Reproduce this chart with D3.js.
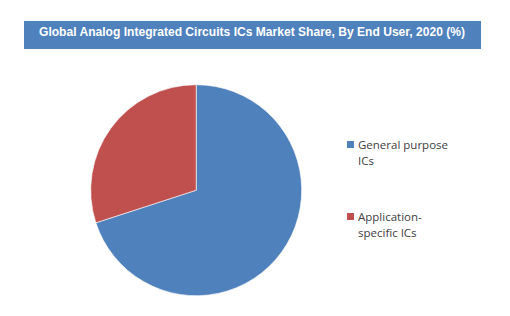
<!DOCTYPE html>
<html>
<head>
<meta charset="utf-8">
<script src="https://cdn.jsdelivr.net/npm/d3@7"></script>
<style>
  body { margin: 0; background: #fff; }
  text { font-family: "Open Sans", "Liberation Sans", sans-serif; }
</style>
</head>
<body>
<div id="chart"></div>
<script>
// data
var categories = ["General purpose ICs", "Application-specific ICs"];
var legendLines = [["General purpose", "ICs"], ["Application-", "specific ICs"]];
var shares = [70, 30];
var colors = ["#4F81BD", "#C0504D"];
var title = "Global Analog Integrated Circuits ICs Market Share, By End User, 2020 (%)";

var width = 510, height = 316;

var svg = d3.select("#chart").append("svg")
    .attr("width", width)
    .attr("height", height);

// title banner
svg.append("rect")
    .attr("x", 24).attr("y", 21)
    .attr("width", 457).attr("height", 28)
    .attr("fill", "#4F81BD");

svg.append("text")
    .attr("x", 252).attr("y", 35.5)
    .attr("text-anchor", "middle")
    .attr("fill", "#fff")
    .attr("font-size", 12.5)
    .attr("font-weight", "bold")
    .style("font-family", "'Liberation Sans Narrow', 'Liberation Sans', sans-serif")
    .attr("textLength", 426)
    .attr("lengthAdjust", "spacingAndGlyphs")
    .text(title);

// pie
var radius = 105.5;
var pie = d3.pie().sort(null).value(function (d) { return d; });
var arc = d3.arc().innerRadius(0).outerRadius(radius);

var g = svg.append("g")
    .attr("transform", "translate(196.2,190.2)");

g.selectAll("path")
    .data(pie(shares))
    .enter()
    .append("path")
    .attr("d", arc)
    .attr("fill", function (d, i) { return colors[i]; })
    .attr("stroke", "#fff")
    .attr("stroke-width", 0.6);

// legend
var legend = svg.append("g").attr("transform", "translate(347,141)");

var items = legend.selectAll("g.item")
    .data(categories)
    .enter()
    .append("g")
    .attr("class", "item")
    .attr("transform", function (d, i) { return "translate(0," + (i * 72) + ")"; });

items.append("rect")
    .attr("width", 7).attr("height", 7)
    .attr("fill", function (d, i) { return colors[i]; });

items.each(function (d, i) {
    var t = d3.select(this).append("text")
        .attr("fill", "#404040")
        .attr("font-size", 11.5);
    legendLines[i].forEach(function (line, k) {
        t.append("tspan")
            .attr("x", 11)
            .attr("y", 8 + k * 16)
            .text(line);
    });
});
</script>
</body>
</html>
